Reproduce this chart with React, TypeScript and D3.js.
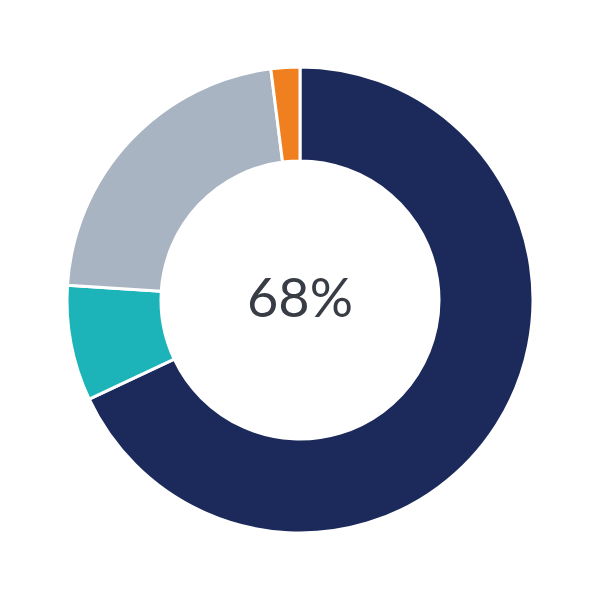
import React, { useEffect, useRef } from 'react';
import * as d3 from 'd3';

const categories = ['A', 'B', 'C', 'D'];
const values = [68, 8, 22, 2];
const colors = ['#1b2a5a', '#1cb4b8', '#a9b4c2', '#f0801f'];
const centerLabel = '68%';

const App: React.FC = () => {
  const svgRef = useRef<SVGSVGElement>(null);

  useEffect(() => {
    if (!svgRef.current) return;
    const svg = d3.select(svgRef.current);
    svg.selectAll('*').remove();

    const width = 600;
    const height = 600;
    const outerRadius = 233;
    const innerRadius = 139;

    const g = svg.append('g')
      .attr('transform', `translate(${width / 2},${height / 2})`);

    const data = categories.map((c, i) => ({ name: c, value: values[i], color: colors[i] }));

    const pie = d3.pie<any>()
      .value(d => d.value)
      .sort(null);

    const arc = d3.arc<any>()
      .innerRadius(innerRadius)
      .outerRadius(outerRadius);

    g.selectAll('path')
      .data(pie(data))
      .enter()
      .append('path')
      .attr('d', arc)
      .attr('fill', d => d.data.color)
      .attr('stroke', '#fff')
      .attr('stroke-width', 3)
      .attr('stroke-linejoin', 'round');

    g.append('text')
      .attr('text-anchor', 'middle')
      .attr('dominant-baseline', 'central')
      .attr('y', -4)
      .attr('font-family', 'Lato, sans-serif')
      .attr('font-weight', 400)
      .attr('font-size', 54)
      .attr('fill', '#383d45')
      .text(centerLabel);
  }, []);

  return (
    <svg
      ref={svgRef}
      width={600}
      height={600}
      style={{ display: 'block', position: 'absolute', left: 0, top: 0, background: '#fff' }}
    />
  );
};

export default App;
